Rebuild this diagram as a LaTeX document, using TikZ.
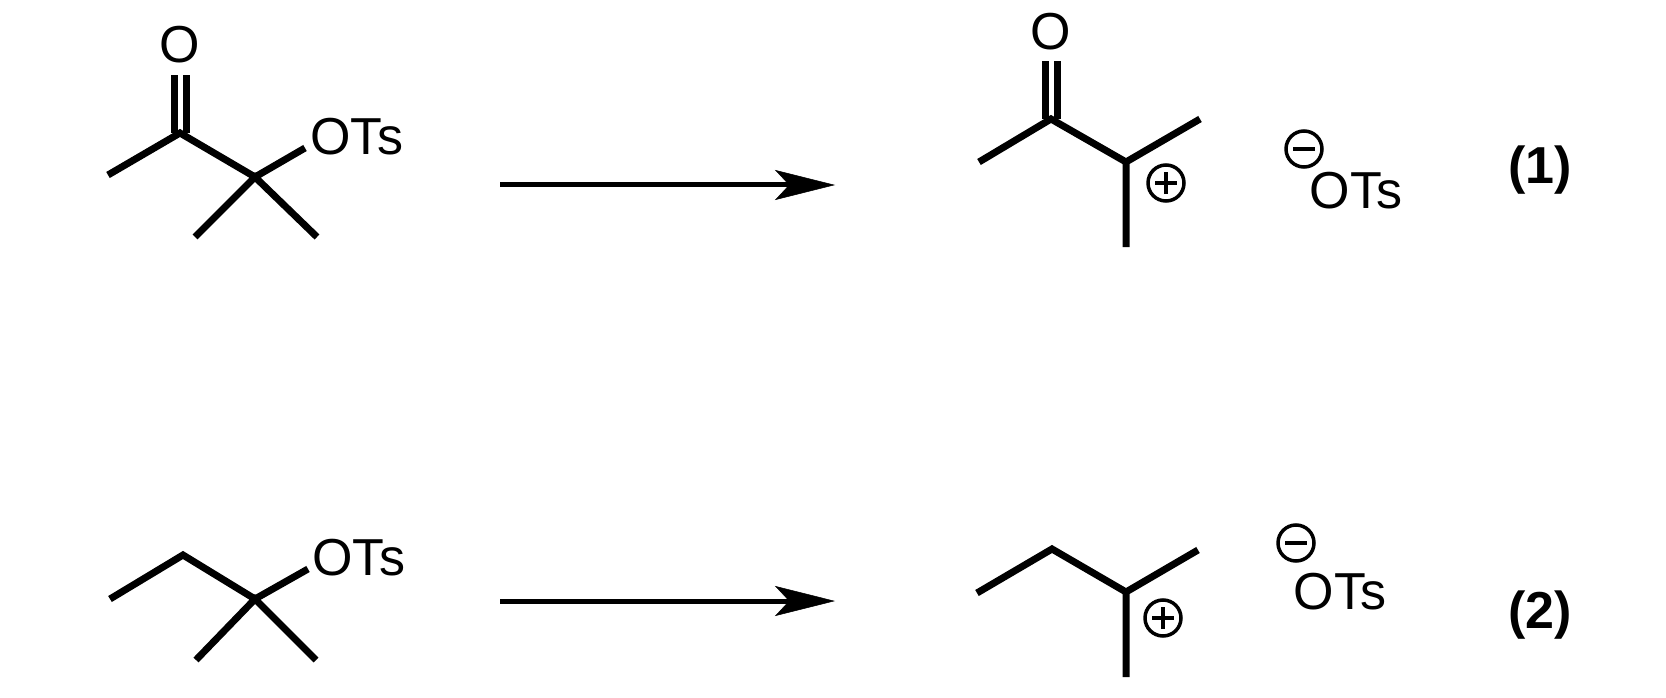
\documentclass[tikz,border=0pt]{standalone}
\usepackage{fontspec}
\setmainfont{Liberation Sans}
\usetikzlibrary{arrows.meta}
\begin{document}
\begin{tikzpicture}[x=1pt,y=-1pt,line width=7pt,
  bond/.style={line cap=butt,line join=miter},
  lbl/.style={font=\fontsize{52}{60}\selectfont,inner sep=0pt},
  chg/.style={circle,draw,line width=3.5pt,minimum size=36pt,inner sep=0pt},
  rxn/.style={line width=5pt,-{Stealth[length=60pt,width=30pt,inset=14pt,line width=0.5pt]}}]
\useasboundingbox (0,0) rectangle (1666,698);
% molecule 1
\coordinate (a1) at (108,175); \coordinate (a2) at (180,133);
\coordinate (a3) at (255,177); \coordinate (a4) at (305,148);
\coordinate (a5) at (195,237); \coordinate (a6) at (317,237);
\node[lbl] (aO) at (180,45) {O};
\node[lbl,anchor=west] (aOTs) at (307,137) {OTs};
\draw[bond] (a1)--(a2)--(a3)--(a4) (a5)--(a3)--(a6);
\draw ([xshift=-6pt]a2) -- ++(0,-58);
\draw ([xshift=6pt]a2) -- ++(0,-58);
% arrow 1
\coordinate (r1s) at (500,185); \coordinate (r1e) at (835,185);
\draw[rxn] (r1s)--(r1e);
% product 1
\coordinate (b1) at (979,162); \coordinate (b2) at (1051,119);
\coordinate (b3) at (1126,162); \coordinate (b4) at (1200,119);
\coordinate (b5) at (1126,247);
\node[lbl] (bO) at (1051,32) {O};
\draw[bond] (b1)--(b2)--(b3)--(b4) (b3)--(b5);
\draw ([xshift=-6pt]b2) -- ++(0,-58);
\draw ([xshift=6pt]b2) -- ++(0,-58);
\node[chg] (bp) at (1166,183) {};
\draw[line width=3.5pt] ([xshift=-11pt]bp.center) -- ([xshift=11pt]bp.center) ([yshift=-11pt]bp.center) -- ([yshift=11pt]bp.center);
\node[chg] (bm) at (1304,149) {};
\draw[line width=3.5pt] ([xshift=-11pt]bm.center) -- ([xshift=11pt]bm.center);
\node[lbl] (bOTs) at (1356,191) {OTs};
\node[lbl,font=\fontsize{52}{60}\selectfont\bfseries] (n1) at (1540,170) {(1)};
% molecule 2
\coordinate (c1) at (110,599); \coordinate (c2) at (183,555);
\coordinate (c3) at (255,599); \coordinate (c4) at (308,569);
\coordinate (c5) at (196,660); \coordinate (c6) at (316,660);
\node[lbl,anchor=west] (cOTs) at (309,558) {OTs};
\draw[bond] (c1)--(c2)--(c3)--(c4) (c5)--(c3)--(c6);
% arrow 2
\coordinate (r2s) at (500,601); \coordinate (r2e) at (835,601);
\draw[rxn] (r2s)--(r2e);
% product 2
\coordinate (d1) at (977,593); \coordinate (d2) at (1052,549);
\coordinate (d3) at (1126,592); \coordinate (d4) at (1198,550);
\coordinate (d5) at (1126,677);
\draw[bond] (d1)--(d2)--(d3)--(d4) (d3)--(d5);
\node[chg] (dp) at (1163,618) {};
\draw[line width=3.5pt] ([xshift=-11pt]dp.center) -- ([xshift=11pt]dp.center) ([yshift=-11pt]dp.center) -- ([yshift=11pt]dp.center);
\node[chg] (dm) at (1296,543) {};
\draw[line width=3.5pt] ([xshift=-11pt]dm.center) -- ([xshift=11pt]dm.center);
\node[lbl] (dOTs) at (1340,592) {OTs};
\node[lbl,font=\fontsize{52}{60}\selectfont\bfseries] (n2) at (1540,615) {(2)};
\end{tikzpicture}
\end{document}
